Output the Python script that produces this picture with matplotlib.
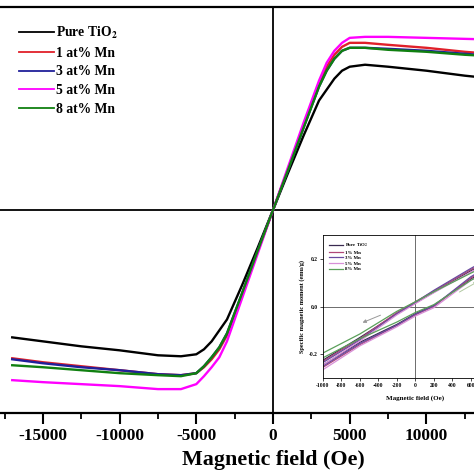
import matplotlib
matplotlib.use('Agg')
import matplotlib.pyplot as plt
from matplotlib.ticker import FixedLocator, FormatStrFormatter

plt.rcParams['font.family'] = ['Liberation Serif', 'DejaVu Serif']
plt.rcParams['font.weight'] = 'bold'
plt.rcParams['mathtext.fontset'] = 'stix'
plt.rcParams['axes.unicode_minus'] = False

# main M-H curves (field in Oe, moment in arbitrary emu/g units)
field = [-17000, -15000, -12500, -10000, -7500, -6000, -5000, -4500, -4000, -3500, -3000,
         -2000, -1000, 0, 1000, 2000, 3000, 3500, 4000, 4500, 5000, 6000, 7500, 10000,
         12500, 15000, 17000]
pure = [-0.640, -0.660, -0.685, -0.705, -0.730, -0.735, -0.725, -0.700, -0.660, -0.605, -0.550,
        -0.375, -0.190, 0, 0.190, 0.375, 0.550, 0.605, 0.660, 0.700, 0.720, 0.730, 0.720, 0.700,
        0.675, 0.655, 0.640]
mn1 = [-0.745, -0.765, -0.785, -0.805, -0.825, -0.830, -0.820, -0.790, -0.750, -0.700, -0.630,
       -0.420, -0.210, 0, 0.210, 0.420, 0.630, 0.720, 0.780, 0.820, 0.840, 0.840, 0.830, 0.815,
       0.795, 0.780, 0.770]
mn3 = [-0.750, -0.770, -0.790, -0.805, -0.825, -0.830, -0.820, -0.785, -0.740, -0.690, -0.620,
       -0.415, -0.205, 0, 0.205, 0.415, 0.620, 0.700, 0.760, 0.800, 0.815, 0.815, 0.810, 0.800,
       0.785, 0.770, 0.760]
mn5 = [-0.855, -0.865, -0.875, -0.885, -0.900, -0.900, -0.875, -0.835, -0.790, -0.740, -0.660,
       -0.440, -0.220, 0, 0.220, 0.440, 0.650, 0.740, 0.800, 0.840, 0.865, 0.870, 0.870, 0.865,
       0.860, 0.855, 0.850]
mn8 = [-0.780, -0.790, -0.805, -0.820, -0.830, -0.835, -0.820, -0.785, -0.740, -0.690, -0.620,
       -0.415, -0.205, 0, 0.205, 0.415, 0.620, 0.700, 0.760, 0.800, 0.815, 0.815, 0.805, 0.795,
       0.780, 0.770, 0.760]

labels = [r'Pure TiO$_2$', '1 at% Mn', '3 at% Mn', '5 at% Mn', '8 at% Mn']
colors = ['black', '#e0202a', '#20209a', '#ff00ff', '#108010']

major_ticks = [-15000, -10000, -5000, 0, 5000, 10000]
minor_ticks = [-17500, -12500, -7500, -2500, 2500, 7500, 12500]

# inset low-field loops: upper (decreasing field) and lower (increasing field) branches
h_in = [-1000, -600, -200, 0, 200, 600, 1000]
in_labels = [r'Pure TiO$_2$', '1% Mn', '3% Mn', '5% Mn', '8% Mn']
in_colors = ['#3a2a50', '#b04878', '#6a4aa0', '#d890d8', '#5aa05a']
in_ticks = [-1000, -800, -600, -400, -200, 0, 200, 400, 600]
up_pure = [-0.225, -0.130, -0.030, 0.015, 0.060, 0.150, 0.235]
lo_pure = [-0.245, -0.150, -0.075, -0.030, 0.005, 0.115, 0.205]
up_1 = [-0.230, -0.135, -0.025, 0.020, 0.065, 0.155, 0.240]
lo_1 = [-0.255, -0.160, -0.080, -0.035, 0.000, 0.120, 0.210]
up_3 = [-0.235, -0.140, -0.030, 0.018, 0.068, 0.160, 0.245]
lo_3 = [-0.250, -0.155, -0.078, -0.032, 0.003, 0.125, 0.215]
up_5 = [-0.245, -0.145, -0.035, 0.012, 0.058, 0.145, 0.230]
lo_5 = [-0.265, -0.165, -0.085, -0.040, -0.005, 0.110, 0.200]
up_8 = [-0.195, -0.115, -0.020, 0.020, 0.062, 0.140, 0.215]
lo_8 = [-0.215, -0.135, -0.065, -0.025, 0.008, 0.110, 0.190]

fig = plt.figure(figsize=(4.74, 4.74), dpi=100)
ax = fig.add_axes([-0.0713, 0.1287, 1.2945, 0.8565])

for y, lab, c in zip([pure, mn1, mn3, mn5, mn8], labels, colors):
    ax.plot(field, y, color=c, lw=1.7, label=lab)

ax.axvline(0, color='black', lw=1.3, zorder=0)
ax.axhline(0, color='black', lw=1.3, zorder=0)
ax.set_xlim(-20000, 20000)
ax.set_ylim(-1.02, 1.02)
ax.xaxis.set_major_locator(FixedLocator(major_ticks))
ax.xaxis.set_minor_locator(FixedLocator(minor_ticks))
ax.tick_params(axis='x', which='major', direction='out', length=8, width=1.5,
               labelsize=12.5, pad=3)
ax.tick_params(axis='x', which='minor', direction='out', length=4.5, width=1.3)
ax.set_yticks([])
for s in ax.spines.values():
    s.set_linewidth(1.6)
ax.set_xlabel('Magnetic field (Oe)', fontsize=15.8, fontweight='bold', labelpad=4)

leg = ax.legend(loc='upper left', bbox_to_anchor=(0.025, 0.962), bbox_transform=fig.transFigure,
                frameon=False, handlelength=2.6, handletextpad=0.15,
                labelspacing=0.42, borderpad=0, prop={'weight': 'bold', 'size': 9.8})
for line in leg.get_lines():
    line.set_linewidth(1.3)

# inset
ins = fig.add_axes([0.6814, 0.2025, 0.390, 0.3017])
branches = [(up_pure, lo_pure), (up_1, lo_1), (up_3, lo_3), (up_5, lo_5), (up_8, lo_8)]
for (up, lo), lab, c in zip(branches, in_labels, in_colors):
    ins.plot(h_in, up, color=c, lw=0.9, label=lab)
    ins.plot(h_in, lo, color=c, lw=0.9)
ins.axvline(0, color='#555555', lw=0.6, zorder=0)
ins.axhline(0, color='#555555', lw=0.6, zorder=0)
ins.annotate('', xy=(-600, -0.072), xytext=(-350, -0.032),
             arrowprops=dict(arrowstyle='-|>', color='#999999', lw=0.7, mutation_scale=5))
ins.annotate('', xy=(700, 0.11), xytext=(450, 0.055),
             arrowprops=dict(arrowstyle='-|>', color='#b0c8a0', lw=0.7, mutation_scale=5))
ins.set_xlim(-1000, 1000)
ins.set_ylim(-0.3, 0.3)
ins.xaxis.set_major_locator(FixedLocator(in_ticks))
ins.set_yticks([-0.2, 0.0, 0.2])
ins.yaxis.set_major_formatter(FormatStrFormatter('%.1f'))
ins.tick_params(direction='out', length=2, width=0.5, labelsize=4, pad=1.5)
for s in ins.spines.values():
    s.set_linewidth(0.6)
ins.set_xlabel('Magnetic field (Oe)', fontsize=5, fontweight='bold', labelpad=5)
ins.set_ylabel('Specific magnetic moment (emu/g)', fontsize=4.5, fontweight='bold', labelpad=3)
ins.legend(loc='upper left', frameon=False, fontsize=3.5, handlelength=2.8,
           handletextpad=0.4, labelspacing=0.25, borderpad=0.8)

fig.savefig('out.png', dpi=100)
